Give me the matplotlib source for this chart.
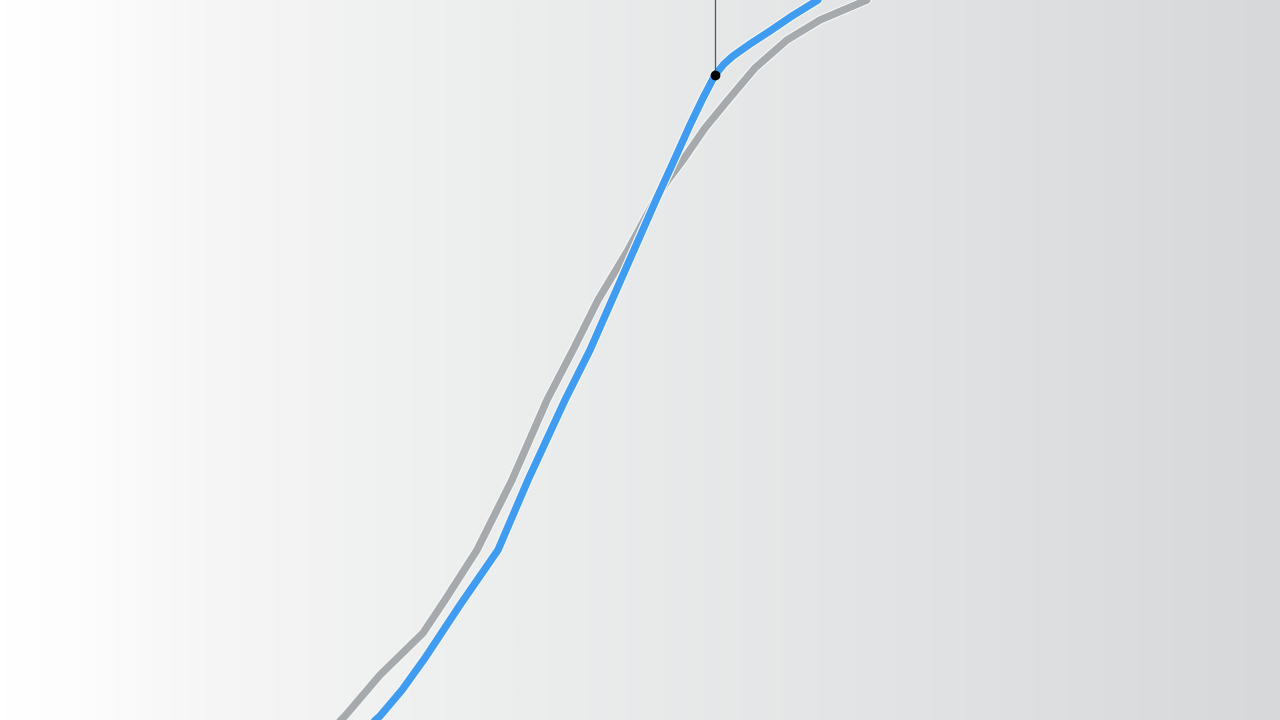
import matplotlib
matplotlib.use("Agg")
import matplotlib.pyplot as plt
import matplotlib.patheffects as pe
import numpy as np
from matplotlib.colors import LinearSegmentedColormap

# values (screen-like units, y grows downward)
blue_x = [370, 380, 402, 425, 460, 498, 528, 565, 590, 612, 634, 656, 672, 690, 703, 715, 724, 733, 750, 770, 792, 818]
blue_y = [725, 716, 690, 658, 605, 550, 480, 400, 350, 300, 250, 200, 165, 125, 98, 75, 64, 56, 44, 31, 16, 0]

gray_x = [336, 345, 380, 423, 445, 477, 512, 547, 573, 598, 628, 655, 668, 683, 705, 728, 755, 787, 820, 867]
gray_y = [725, 716, 675, 633, 600, 550, 480, 400, 350, 300, 250, 200, 180, 160, 128, 100, 68, 40, 20, 0]

marker_x = 715
marker_y = 75

fig = plt.figure(figsize=(12.8, 7.2), dpi=100)
ax = fig.add_axes([0, 0, 1, 1])

# background gradient, white on the left to light grey on the right
bg = LinearSegmentedColormap.from_list(
    "bg", [(0.0, "#ffffff"), (0.06, "#fdfdfd"), (0.16, "#f6f6f6"),
           (0.4, "#eceded"), (0.7, "#e2e3e4"), (1.0, "#d7d8da")])
grad = np.linspace(0, 1, 512).reshape(1, -1)
ax.imshow(grad, cmap=bg, aspect="auto", extent=[0, 1280, 720, 0], zorder=0)

outline = [pe.Stroke(linewidth=7, foreground="#f4f6f8"), pe.Normal()]
ax.plot(gray_x, gray_y, color="#a7aaad", linewidth=5.3, solid_capstyle="round",
        solid_joinstyle="round", path_effects=outline, zorder=2)
ax.plot(blue_x, blue_y, color="#3f9cf0", linewidth=5.3, solid_capstyle="round",
        solid_joinstyle="round", path_effects=outline, zorder=3)

ax.plot([marker_x, marker_x], [0, marker_y], color="#555555", linewidth=0.9, zorder=4)
ax.plot(marker_x, marker_y, "o", color="black", markersize=6, zorder=5)

ax.set_xlim(0, 1280)
ax.set_ylim(720, 0)
ax.axis("off")

fig.savefig("out.png", dpi=100)
